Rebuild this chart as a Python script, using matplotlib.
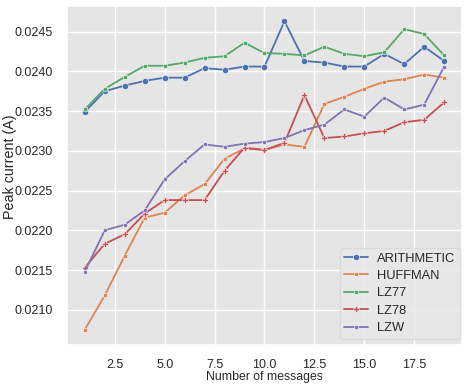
import numpy as np
import matplotlib
matplotlib.use('Agg')
import matplotlib.pyplot as plt
import seaborn as sns

sns.set_theme(style='darkgrid', rc={'axes.facecolor': '#e5e5e5'})
plt.rcParams['font.family'] = ['Liberation Sans', 'DejaVu Sans']

messages = list(range(1, 20))
arithmetic = [0.02349, 0.02375, 0.02382, 0.02388, 0.02392, 0.02392, 0.02404, 0.02402, 0.02406, 0.02406,
              0.02463, 0.02413, 0.02411, 0.02406, 0.02406, 0.02422, 0.02409, 0.02431, 0.02413]
huffman = [0.02075, 0.02118, 0.02168, 0.02216, 0.02222, 0.02244, 0.02258, 0.02290, 0.02303, 0.02301,
           0.02308, 0.02305, 0.02359, 0.02368, 0.02378, 0.02387, 0.02390, 0.02396, 0.02392]
lz77 = [0.02352, 0.02378, 0.02393, 0.02407, 0.02407, 0.02411, 0.02417, 0.02419, 0.02436, 0.02423,
        0.02422, 0.02420, 0.02431, 0.02422, 0.02419, 0.02424, 0.02453, 0.02447, 0.02420]
lz78 = [0.02153, 0.02183, 0.02195, 0.02221, 0.02238, 0.02238, 0.02238, 0.02275, 0.02304, 0.02301,
        0.02310, 0.02370, 0.02316, 0.02318, 0.02322, 0.02325, 0.02336, 0.02339, 0.02361]
lzw = [0.02148, 0.02200, 0.02207, 0.02225, 0.02264, 0.02287, 0.02308, 0.02305, 0.02309, 0.02311,
       0.02316, 0.02326, 0.02333, 0.02352, 0.02343, 0.02367, 0.02352, 0.02358, 0.02406]

series = [('ARITHMETIC', arithmetic, 'o', 4.5),
          ('HUFFMAN', huffman, 's', 3.5),
          ('LZ77', lz77, 's', 3),
          ('LZ78', lz78, 'P', 4),
          ('LZW', lzw, 'o', 3)]
colors = sns.color_palette('deep')

fig = plt.figure(figsize=(4.74, 3.89), dpi=100)
ax = fig.add_axes([0.141, 0.113, 0.834, 0.872])
for i, (name, vals, mk, ms) in enumerate(series):
    ax.plot(messages, vals, marker=mk, markersize=ms, color=colors[i], lw=1.3,
            markeredgecolor='white', markeredgewidth=0.4, label=name)

ax.set_xlabel('Number of messages', fontsize=8.8, labelpad=0)
ax.set_ylabel('Peak current (A)', fontsize=10.3)
ax.yaxis.set_label_coords(-0.127, 0.525)
ax.tick_params(labelsize=9, pad=4)
leg = ax.legend(loc='lower right', bbox_to_anchor=(0.995, 0.018), borderaxespad=0,
                fontsize=9.3, handlelength=1.85, handletextpad=0.7, borderpad=0.35,
                labelspacing=0.42, facecolor='#e8e8e8')
leg.get_frame().set_edgecolor('#d8d8d8')

fig.savefig('out.png', dpi=100)
